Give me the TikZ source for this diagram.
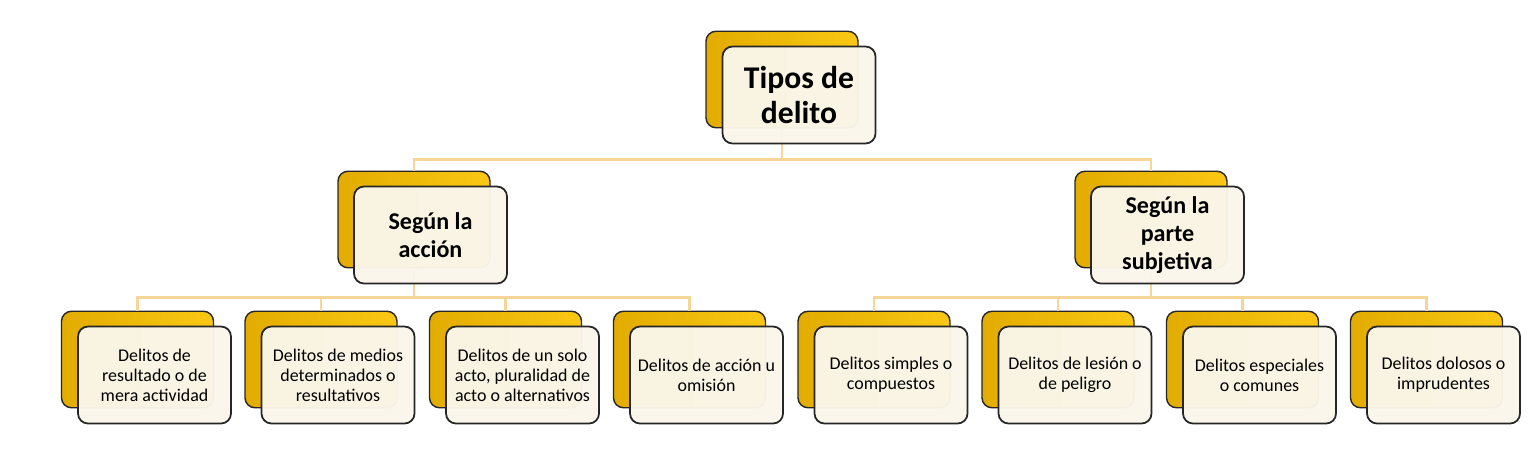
\documentclass[tikz,border=0pt]{standalone}
\usepackage{fontspec}
\setmainfont{Carlito}
\usepackage{tikz}
\usetikzlibrary{calc}

\definecolor{golddark}{RGB}{226,172,0}
\definecolor{goldlight}{RGB}{250,200,20}
\definecolor{cardfill}{RGB}{250,246,234}
\definecolor{linktan}{RGB}{246,214,150}

\tikzset{
  gold/.style={draw=black!85, line width=0.8pt, rounded corners=0.2cm,
    left color=golddark, right color=goldlight,
    minimum width=3.04cm, minimum height=1.93cm},
  card/.style={draw=black!85, line width=1pt, rounded corners=0.2cm,
    fill=cardfill, fill opacity=0.97, text opacity=1, align=center,
    minimum width=3.06cm, minimum height=1.94cm},
  link/.style={draw=linktan, line width=1.2pt},
  big/.style={font=\fontsize{18}{19.5}\selectfont\bfseries},
  mid/.style={font=\fontsize{13.7}{15.9}\selectfont\bfseries},
  small/.style={font=\fontsize{10.2}{11.4}\selectfont}
}

\begin{document}
\begin{tikzpicture}
\useasboundingbox (0,0) rectangle (30.72,-9.06);

% back boxes
\node[gold] (Tb) at (15.64,-1.59) {};
\node[gold] (Ab) at (8.28,-4.39) {};
\node[gold] (Sb) at (23.02,-4.39) {};
\node[gold] (A1b) at (2.75,-7.19) {};
\node[gold] (A2b) at (6.42,-7.19) {};
\node[gold] (A3b) at (10.11,-7.19) {};
\node[gold] (A4b) at (13.79,-7.19) {};
\node[gold] (S1b) at (17.48,-7.19) {};
\node[gold] (S2b) at (21.16,-7.19) {};
\node[gold] (S3b) at (24.85,-7.19) {};
\node[gold] (S4b) at (28.53,-7.19) {};

% connectors
\draw[link] (Tb.south) -- ++(0,-0.62) -| (Ab.north);
\draw[link] (Tb.south) -- ++(0,-0.62) -| (Sb.north);
\draw[link] (Ab.south) -- ++(0,-0.58) -| (A1b.north);
\draw[link] (Ab.south) -- ++(0,-0.58) -| (A2b.north);
\draw[link] (Ab.south) -- ++(0,-0.58) -| (A3b.north);
\draw[link] (Ab.south) -- ++(0,-0.58) -| (A4b.north);
\draw[link] (Sb.south) -- ++(0,-0.58) -| (S1b.north);
\draw[link] (Sb.south) -- ++(0,-0.58) -| (S2b.north);
\draw[link] (Sb.south) -- ++(0,-0.58) -| (S3b.north);
\draw[link] (Sb.south) -- ++(0,-0.58) -| (S4b.north);

% front boxes
\node[card,big] (T) at ($(Tb)+(0.34,-0.31)$) {Tipos de\\delito};
\node[card,mid] (A) at ($(Ab)+(0.33,-0.31)$) {Según la\\acción};
\node[card,mid] (S) at ($(Sb)+(0.33,-0.31)$) {Según la\\parte\\subjetiva};
\node[card,small] (A1) at ($(A1b)+(0.34,-0.31)$) {Delitos de\\resultado o de\\mera actividad};
\node[card,small] (A2) at ($(A2b)+(0.34,-0.31)$) {Delitos de medios\\determinados o\\resultativos};
\node[card,small] (A3) at ($(A3b)+(0.34,-0.31)$) {Delitos de un solo\\acto, pluralidad de\\acto o alternativos};
\node[card,small] (A4) at ($(A4b)+(0.34,-0.31)$) {Delitos de acción u\\omisión};
\node[card,small] (S1) at ($(S1b)+(0.34,-0.31)$) {Delitos simples o\\compuestos};
\node[card,small] (S2) at ($(S2b)+(0.34,-0.31)$) {Delitos de lesión o\\de peligro};
\node[card,small] (S3) at ($(S3b)+(0.34,-0.31)$) {Delitos especiales\\o comunes};
\node[card,small] (S4) at ($(S4b)+(0.34,-0.31)$) {Delitos dolosos o\\imprudentes};
\end{tikzpicture}
\end{document}
